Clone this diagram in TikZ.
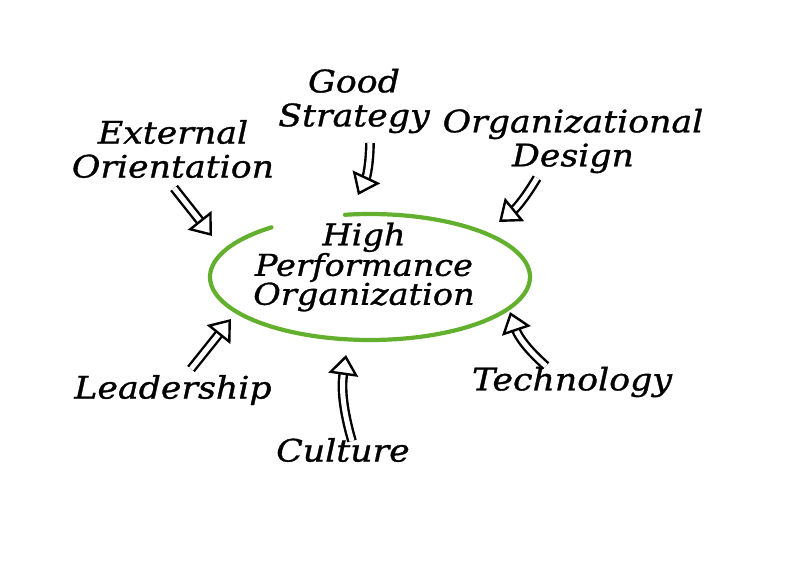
\documentclass[tikz,border=0pt]{standalone}
\usepackage{fontspec}
\setmainfont{DejaVu Serif}[ItalicFeatures={FakeStretch=1.12, FakeBold=1}]
\usetikzlibrary{arrows.meta}
\definecolor{hpgreen}{RGB}{98,176,46}
\tikzset{
  lbl/.style={font=\itshape\fontsize{31}{34}\selectfont, align=center, inner sep=0pt},
  hollow/.style={line width=2.4pt, double=white, double distance=5pt,
    -{Triangle[open, fill=white, length=20pt, width=30pt, line width=2.4pt]}},
}
\begin{document}
\begin{tikzpicture}[x=1pt,y=-1pt]
\useasboundingbox (0,0) rectangle (800,569);
% ellipse (hand-drawn loop)
\draw[hpgreen, line width=4.2pt, line cap=round]
  plot[domain=99:-232, samples=120, smooth] ({370+160*cos(\x)}, {277-63*sin(\x)});
% labels
\node[lbl] (good) at (354,101) {Good\\Strategy};
\node[lbl] (ext) at (173,149) {External\\Orientation};
\node[lbl] (org) at (573,141) {Organizational\\Design};
\node[lbl, font=\itshape\fontsize{30}{29}\selectfont] (hpo) at (364,267) {High\\Performance\\Organization};
\node[lbl] (lead) at (173,390) {Leadership};
\node[lbl] (cult) at (343,450) {Culture};
\node[lbl] (tech) at (572,382) {Technology};
% arrow ends
\coordinate (extT) at (174,188); \coordinate (extH) at (212,236);
\coordinate (goodT) at (370,143); \coordinate (goodH) at (358,195);
\coordinate (orgT) at (537,178); \coordinate (orgH) at (499,222);
\coordinate (leadT) at (191,369); \coordinate (leadH) at (231,319);
\coordinate (cultT) at (352,441); \coordinate (cultH) at (346,355);
\coordinate (techT) at (546,366); \coordinate (techH) at (510,312);
\draw[hollow] (extT) -- (extH);
\draw[hollow] (goodT) to[bend left=12] (goodH);
\draw[hollow] (orgT) to[bend left=10] (orgH);
\draw[hollow] (leadT) -- (leadH);
\draw[hollow] (cultT) to[bend left=12] (cultH);
\draw[hollow] (techT) to[bend left=15] (techH);
\end{tikzpicture}
\end{document}
